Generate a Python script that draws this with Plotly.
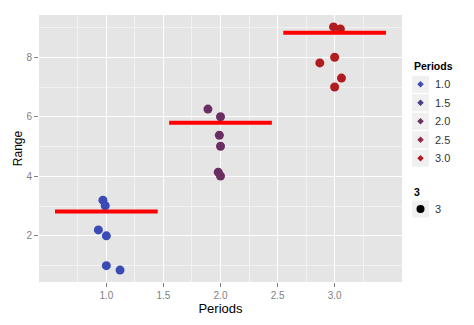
import plotly.graph_objects as go

# ---- data ----
period_levels = [1, 2, 3]
x_p1 = [0.97, 0.99, 0.93, 1.00, 1.00, 1.12]
y_p1 = [3.20, 3.01, 2.20, 2.00, 1.00, 0.85]
x_p2 = [1.89, 2.00, 1.99, 2.00, 1.98, 2.00]
y_p2 = [6.26, 6.00, 5.38, 5.01, 4.14, 4.01]
x_p3 = [2.99, 3.05, 3.00, 2.87, 3.06, 3.00]
y_p3 = [9.02, 8.95, 8.00, 7.81, 7.30, 7.00]
level_values = [2.82, 5.80, 8.82]
half_width = 0.45
legend_labels = ["1.0", "1.5", "2.0", "2.5", "3.0"]
legend_colors = ["#3f48b3", "#4d3f8a", "#693463", "#8c2a48", "#b01c24"]
point_colors = ["#3a4bb5", "#6b2e63", "#b01c1f"]
size_label = "3"
x_ticks = [1.0, 1.5, 2.0, 2.5, 3.0]
x_tick_text = ["1.0", "1.5", "2.0", "2.5", "3.0"]
y_ticks = [2, 4, 6, 8]

# ---- layout constants (pixels) ----
W, H = 474, 325
ML, MT, MB = 39, 15, 43
PLOT_R = 402
area_w = W - ML
main_dom = (PLOT_R - ML) / area_w
leg_left = PLOT_R + 2
leg_dom = (leg_left - ML) / area_w

fig = go.Figure()

xs = [x_p1, x_p2, x_p3]
ys = [y_p1, y_p2, y_p3]
for xv, yv, c in zip(xs, ys, point_colors):
    fig.add_trace(go.Scatter(x=xv, y=yv, mode="markers",
                             marker=dict(size=9, color=c, line=dict(width=0)),
                             showlegend=False, hoverinfo="x+y"))

for p, lv in zip(period_levels, level_values):
    fig.add_trace(go.Scatter(x=[p - half_width, p + half_width], y=[lv, lv],
                             mode="lines", line=dict(color="#ff0000", width=4),
                             showlegend=False))

# ---- manual legend in a pixel-scaled side axis ----
key_x = 420.5
text_x = 433
title1_y = 66
row0_y = 84.3
row_step = 18.5
title2_y = 191.5
row2_y = 209

row_ys = [row0_y + i * row_step for i in range(len(legend_labels))]
# key backgrounds
fig.add_trace(go.Scatter(x=[key_x] * (len(row_ys) + 1), y=row_ys + [row2_y],
                         mode="markers", xaxis="x2", yaxis="y2",
                         marker=dict(symbol="square", size=17, color="#f0f0f0",
                                     line=dict(width=0)),
                         showlegend=False, hoverinfo="skip"))
fig.add_trace(go.Scatter(x=[key_x] * len(row_ys), y=row_ys, mode="markers",
                         xaxis="x2", yaxis="y2", name="Periods",
                         text=legend_labels, hoverinfo="text",
                         marker=dict(symbol="diamond", size=5, color=legend_colors),
                         showlegend=False))
fig.add_trace(go.Scatter(x=[key_x], y=[row2_y], mode="markers",
                         xaxis="x2", yaxis="y2", name=size_label,
                         marker=dict(symbol="circle", size=8, color="black"),
                         showlegend=False, hoverinfo="name"))

annos = [dict(x=leg_left + 8, y=title1_y, text="<b>Periods</b>",
              font=dict(size=10.5, color="black")),
         dict(x=leg_left + 8, y=title2_y, text="<b>3</b>",
              font=dict(size=10.5, color="black")),
         dict(x=text_x, y=row2_y, text=size_label,
              font=dict(size=11, color="#333333"))]
for lab, yv in zip(legend_labels, row_ys):
    annos.append(dict(x=text_x, y=yv, text=lab, font=dict(size=11, color="#333333")))
for a in annos:
    a.update(xref="x2", yref="y2", xanchor="left", yanchor="middle",
             showarrow=False)

grid_minor = "#f2f2f2"
fig.update_layout(
    width=W, height=H,
    margin=dict(l=ML, r=0, t=MT, b=MB, autoexpand=False),
    paper_bgcolor="white", plot_bgcolor="white",
    showlegend=False,
    font=dict(family="Liberation Sans, Arial, sans-serif", color="black"),
    xaxis=dict(domain=[0, main_dom], range=[0.41, 3.59],
               tickvals=x_ticks, ticktext=x_tick_text,
               showgrid=True, gridcolor="white", gridwidth=1,
               minor=dict(tickvals=[0.75, 1.25, 1.75, 2.25, 2.75, 3.25],
                          showgrid=True, gridcolor=grid_minor, gridwidth=1),
               ticks="outside", ticklen=4, tickcolor="#7f7f7f",
               tickfont=dict(size=10, color="#7f7f7f"),
               zeroline=False, showline=False, automargin=False,
               title=dict(text="Periods", font=dict(size=13), standoff=3)),
    yaxis=dict(range=[0.45, 9.42], tickvals=y_ticks,
               showgrid=True, gridcolor="white", gridwidth=1,
               minor=dict(tickvals=[1, 3, 5, 7, 9], showgrid=True,
                          gridcolor=grid_minor, gridwidth=1),
               ticks="outside", ticklen=4, tickcolor="#7f7f7f",
               tickfont=dict(size=10, color="#7f7f7f"),
               zeroline=False, showline=False, automargin=False,
               title=dict(text="Range", font=dict(size=12), standoff=1)),
    xaxis2=dict(domain=[leg_dom, 1], range=[leg_left, W], visible=False,
                anchor="y2", fixedrange=True),
    yaxis2=dict(domain=[0, 1], range=[H - MB, MT], visible=False,
                anchor="x2", fixedrange=True),
    annotations=annos,
    shapes=[dict(type="rect", xref="x domain", yref="y domain", x0=0, x1=1,
                 y0=0, y1=1, fillcolor="#e5e5e5", line=dict(width=0),
                 layer="below")],
)

fig.write_html("out.html")
